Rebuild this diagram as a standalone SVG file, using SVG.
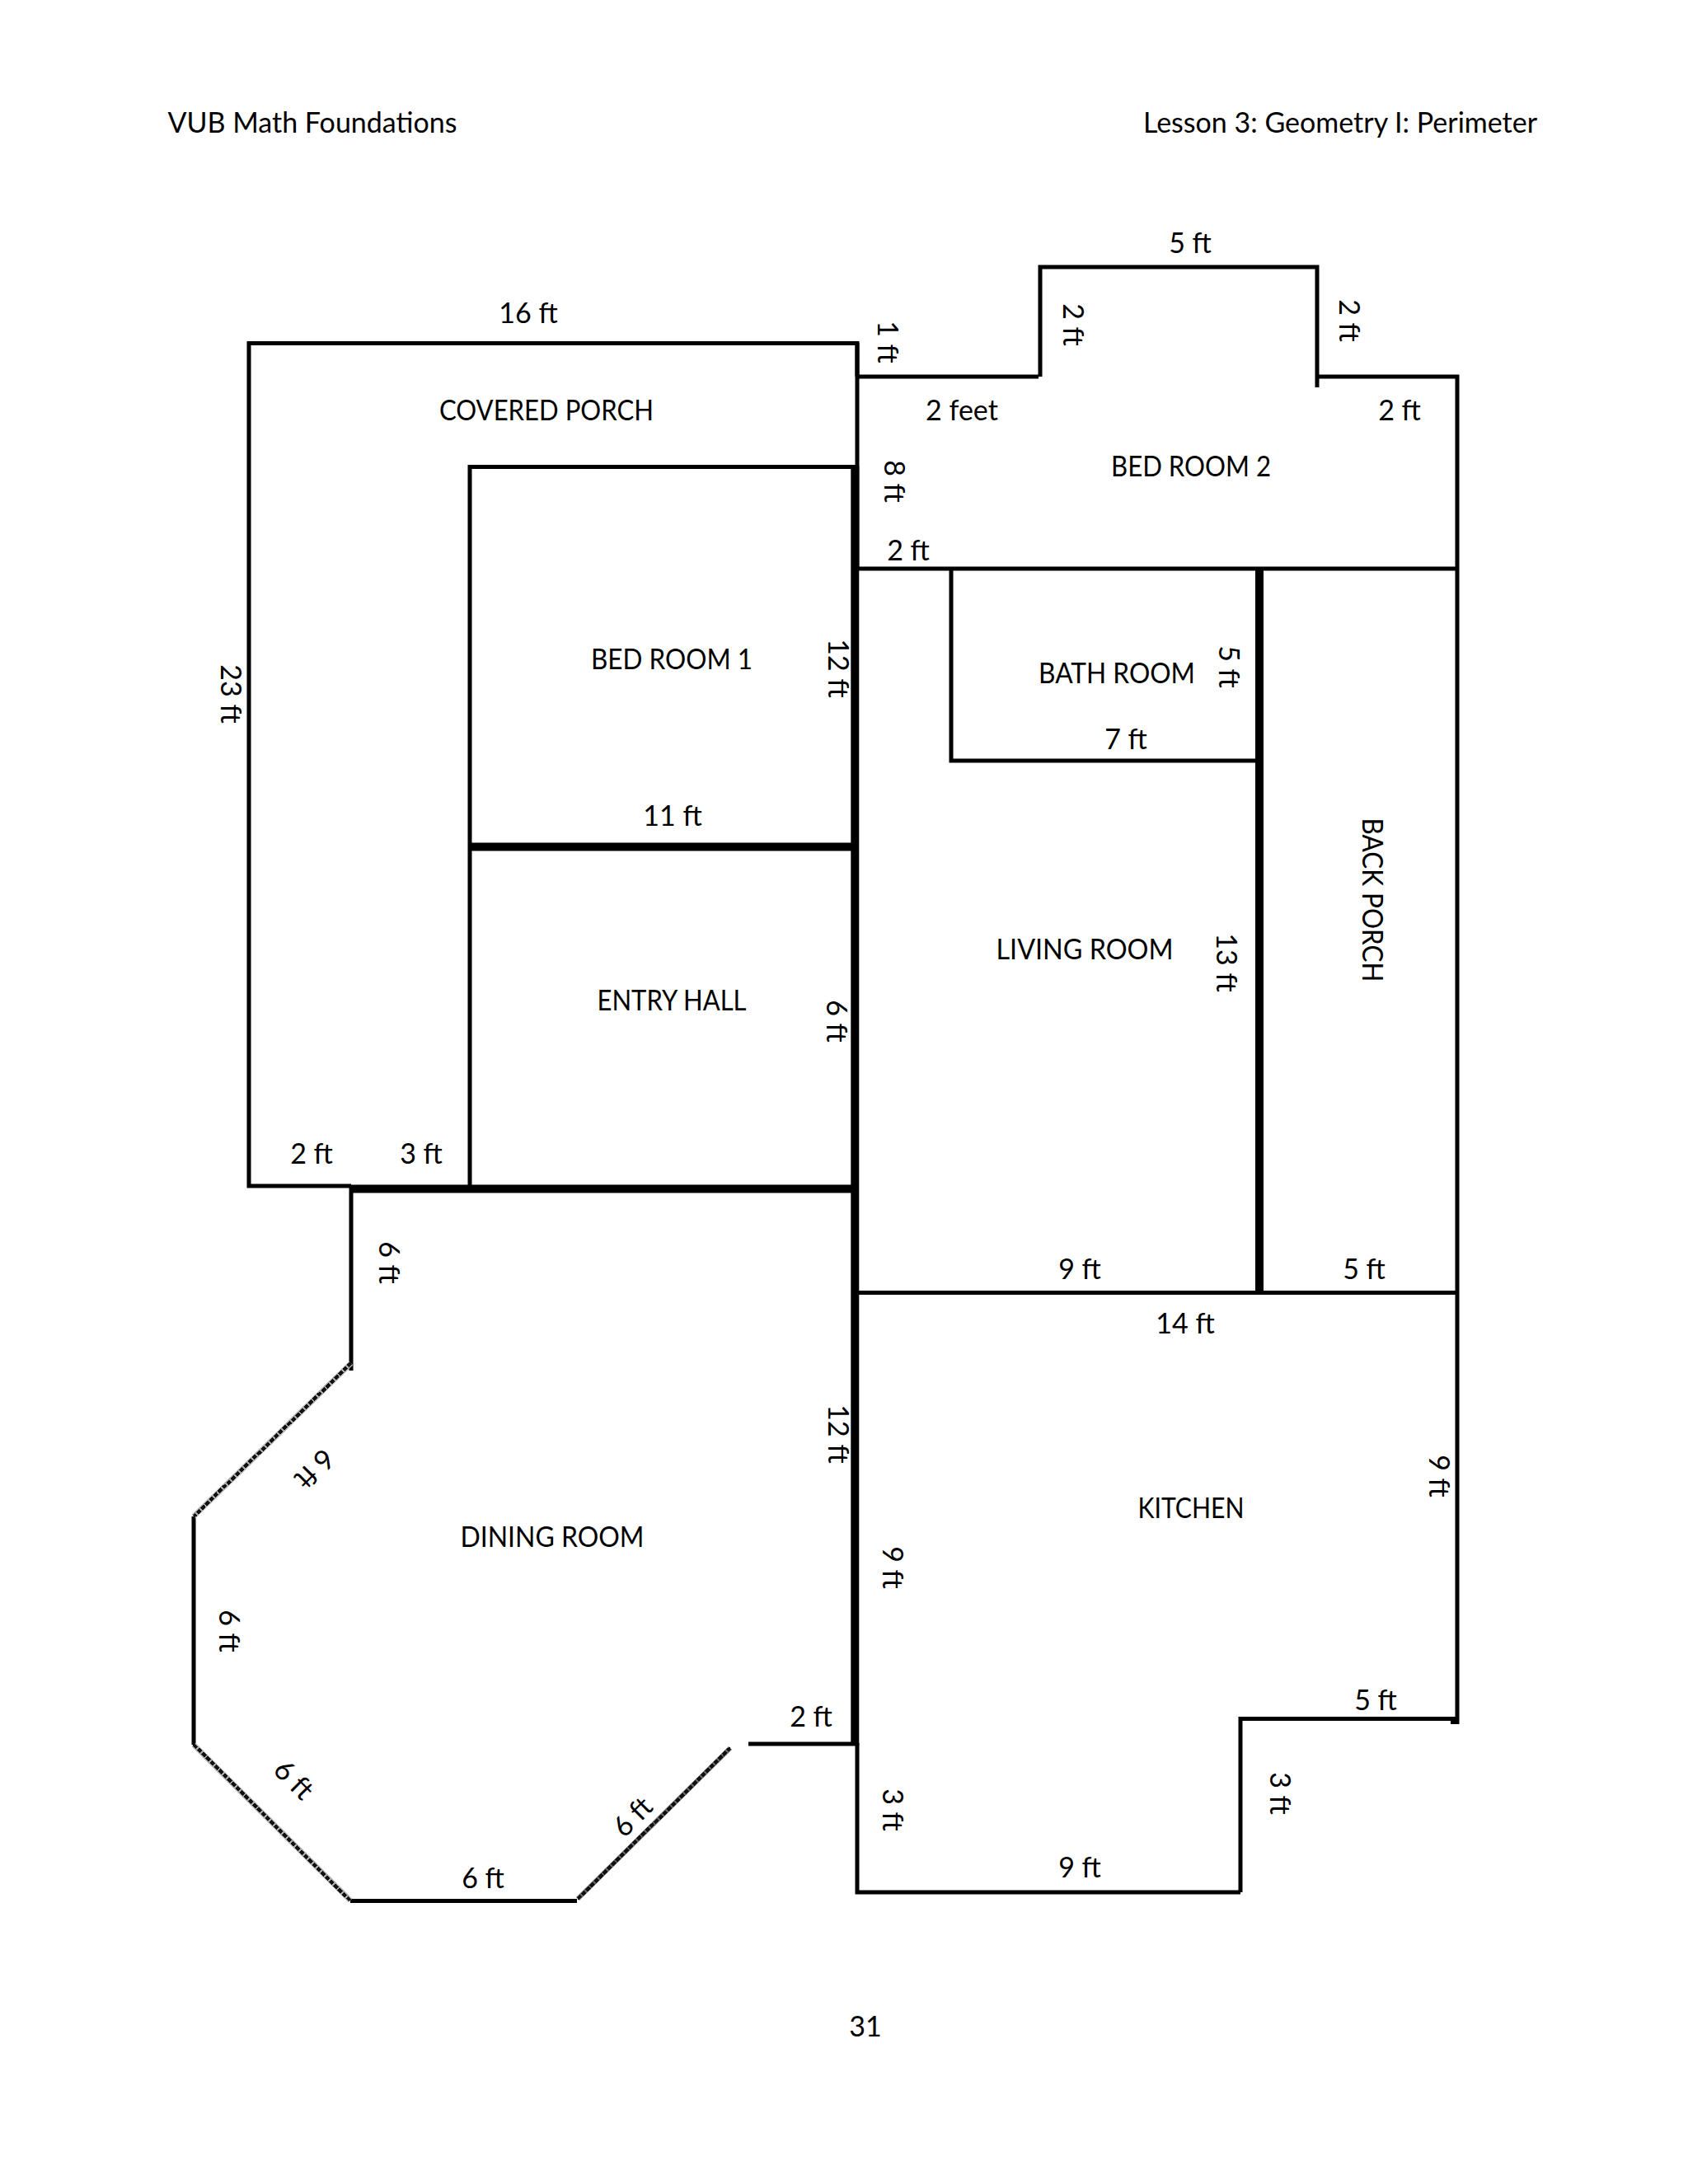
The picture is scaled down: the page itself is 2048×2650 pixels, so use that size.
<svg xmlns="http://www.w3.org/2000/svg" width="2048" height="2650" viewBox="0 0 2048 2650">
<style>
text{font-family:"Lato","Liberation Sans",sans-serif;font-size:34px;fill:#000;text-anchor:middle}
.w{fill:none;stroke:#000;stroke-width:5}
.t{fill:none;stroke:#000;stroke-width:10}
.h{fill:none;stroke:#aaa;stroke-width:6.500}
.g{fill:none;stroke:#666;stroke-width:5.500}
.k{fill:none;stroke:#111;stroke-width:4.200;stroke-dasharray:5.300 2;shape-rendering:crispEdges}
</style>
<rect width="2048" height="2650" fill="#fff"/>
<g id="walls">
<path class="w" d="M1040 457V416.500H302V1439H426"/>
<path class="w" d="M1040 566.500H570V1442M1040 416V690"/>
<path class="w" d="M1040 457H1260M1262 457V324H1598V470M1598 457H1768V2092"/>
<path class="w" d="M1040 690H1768M1154 690V923H1526"/>
<path class="w" d="M1040 1568.500H1768M1505 2296V2085.500H1768M1040 2115V2296H1505M908 2116H1040"/>
<path class="w" d="M426 1439V1663M235 1840V2117M425 2306.500H700"/>
<path class="t" d="M1037.300 566V2118M1528 690V1569M570 1027.500H1035M426 1442.500H1035"/>
<path d="M1760 2085h10v7h-10z" fill="#000"/>
</g>
<g id="diagonals">
<path class="h" d="M426 1654L235 1840M235 2117L425 2306"/>
<path class="g" d="M701 2304L886 2121"/>
<path class="k" d="M426 1654L235 1840M235 2117L425 2306M701 2304L886 2121"/>
</g>
<g id="header">
<text x="379" y="161">VUB Math Foundations</text>
<text x="1626" y="161">Lesson 3: Geometry I: Perimeter</text>
<text x="1050" y="2471">31</text>
</g>
<g id="rooms">
<text x="663" y="510" textLength="260" lengthAdjust="spacingAndGlyphs">COVERED PORCH</text>
<text x="1445" y="578" textLength="194" lengthAdjust="spacingAndGlyphs">BED ROOM 2</text>
<text x="1355" y="829" textLength="190" lengthAdjust="spacingAndGlyphs">BATH ROOM</text>
<text x="815" y="812" textLength="196" lengthAdjust="spacingAndGlyphs">BED ROOM 1</text>
<text x="815" y="1226" textLength="181" lengthAdjust="spacingAndGlyphs">ENTRY HALL</text>
<text x="1316" y="1164" textLength="215" lengthAdjust="spacingAndGlyphs">LIVING ROOM</text>
<text transform="translate(1664 1092) rotate(90)" y="11" textLength="199" lengthAdjust="spacingAndGlyphs">BACK PORCH</text>
<text x="670" y="1877" textLength="223" lengthAdjust="spacingAndGlyphs">DINING ROOM</text>
<text x="1445" y="1842" textLength="129" lengthAdjust="spacingAndGlyphs">KITCHEN</text>
</g>
<g id="dimensions">
<text x="641" y="392">16 ft</text>
<text x="1444" y="307">5 ft</text>
<text x="1167" y="510">2 feet</text>
<text x="1698" y="510">2 ft</text>
<text x="1102" y="680">2 ft</text>
<text x="1366" y="909">7 ft</text>
<text x="816" y="1002">11 ft</text>
<text x="378" y="1412">2 ft</text>
<text x="511" y="1412">3 ft</text>
<text x="1310" y="1552">9 ft</text>
<text x="1655" y="1552">5 ft</text>
<text x="1438" y="1618">14 ft</text>
<text x="984" y="2095">2 ft</text>
<text x="1669" y="2075">5 ft</text>
<text x="586" y="2291">6 ft</text>
<text x="1310" y="2278">9 ft</text>
<text transform="translate(1301 394) rotate(90)" y="11">2 ft</text>
<text transform="translate(1636 389) rotate(90)" y="11">2 ft</text>
<text transform="translate(1076 415) rotate(90)" y="11">1 ft</text>
<text transform="translate(1084 584) rotate(90)" y="11">8 ft</text>
<text transform="translate(1016 811) rotate(90)" y="11">12 ft</text>
<text transform="translate(1490 809) rotate(90)" y="11">5 ft</text>
<text transform="translate(1014 1239) rotate(90)" y="11">6 ft</text>
<text transform="translate(1487 1168) rotate(90)" y="11">13 ft</text>
<text transform="translate(279 842) rotate(90)" y="11">23 ft</text>
<text transform="translate(471 1532) rotate(90)" y="11">6 ft</text>
<text transform="translate(1016 1740) rotate(90)" y="11">12 ft</text>
<text transform="translate(1082 1902) rotate(90)" y="11">9 ft</text>
<text transform="translate(277 1979) rotate(90)" y="11">6 ft</text>
<text transform="translate(1082 2196) rotate(90)" y="11">3 ft</text>
<text transform="translate(1745 1791) rotate(90)" y="11">9 ft</text>
<text transform="translate(1552 2176) rotate(90)" y="11">3 ft</text>
<text transform="translate(381 1782) rotate(135)" y="11">6 ft</text>
<text transform="translate(356 2160) rotate(45)" y="11">6 ft</text>
<text transform="translate(768 2205) rotate(-45)" y="11">6 ft</text>
</g>
</svg>
